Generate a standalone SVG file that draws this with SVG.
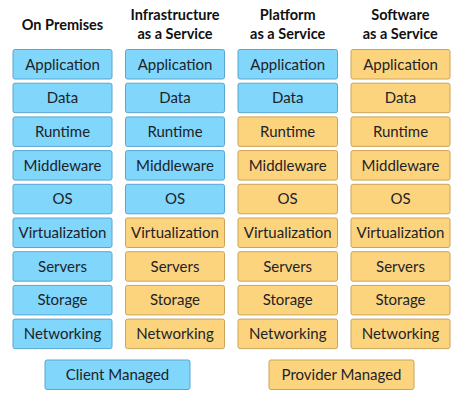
<svg xmlns="http://www.w3.org/2000/svg" width="474" height="400" viewBox="0 0 474 400">
<style>
.c{fill:#80d6fb;stroke:#5aa6cf;stroke-width:1}
.p{fill:#fdd47e;stroke:#caa45a;stroke-width:1}
.t{font-family:Lato,"Liberation Sans",sans-serif;font-size:15px;fill:#1e2328;text-anchor:middle}
.h{font-family:Lato,"Liberation Sans",sans-serif;font-size:14.5px;font-weight:bold;fill:#111;text-anchor:middle}
</style>
<rect width="474" height="400" fill="#fff"/>
<g id="headers">
<text class="h" x="62.5" y="30">On Premises</text>
<text class="h" x="175" y="20">Infrastructure</text>
<text class="h" x="175" y="38.5">as a Service</text>
<text class="h" x="287.7" y="20">Platform</text>
<text class="h" x="287.7" y="38.5">as a Service</text>
<text class="h" x="400.3" y="20">Software</text>
<text class="h" x="400.3" y="38.5">as a Service</text>
</g>
<g id="col1">
<g id="c1-app"><rect class="c" x="13" y="49.5" width="99" height="29.5" rx="2"/><text class="t" x="62.5" y="69.5">Application</text></g>
<g id="c1-data"><rect class="c" x="13" y="83.2" width="99" height="29.5" rx="2"/><text class="t" x="62.5" y="103.2">Data</text></g>
<g id="c1-runtime"><rect class="c" x="13" y="116.9" width="99" height="29.5" rx="2"/><text class="t" x="62.5" y="136.9">Runtime</text></g>
<g id="c1-mw"><rect class="c" x="13" y="150.6" width="99" height="29.5" rx="2"/><text class="t" x="62.5" y="170.6">Middleware</text></g>
<g id="c1-os"><rect class="c" x="13" y="184.3" width="99" height="29.5" rx="2"/><text class="t" x="62.5" y="204.3">OS</text></g>
<g id="c1-virt"><rect class="c" x="13" y="218" width="99" height="29.5" rx="2"/><text class="t" x="62.5" y="238">Virtualization</text></g>
<g id="c1-srv"><rect class="c" x="13" y="251.7" width="99" height="29.5" rx="2"/><text class="t" x="62.5" y="271.7">Servers</text></g>
<g id="c1-sto"><rect class="c" x="13" y="285.4" width="99" height="29.5" rx="2"/><text class="t" x="62.5" y="305.4">Storage</text></g>
<g id="c1-net"><rect class="c" x="13" y="319.1" width="99" height="29.5" rx="2"/><text class="t" x="62.5" y="339.1">Networking</text></g>
</g>
<g id="col2">
<g id="c2-app"><rect class="c" x="125.5" y="49.5" width="99" height="29.5" rx="2"/><text class="t" x="175" y="69.5">Application</text></g>
<g id="c2-data"><rect class="c" x="125.5" y="83.2" width="99" height="29.5" rx="2"/><text class="t" x="175" y="103.2">Data</text></g>
<g id="c2-runtime"><rect class="c" x="125.5" y="116.9" width="99" height="29.5" rx="2"/><text class="t" x="175" y="136.9">Runtime</text></g>
<g id="c2-mw"><rect class="c" x="125.5" y="150.6" width="99" height="29.5" rx="2"/><text class="t" x="175" y="170.6">Middleware</text></g>
<g id="c2-os"><rect class="c" x="125.5" y="184.3" width="99" height="29.5" rx="2"/><text class="t" x="175" y="204.3">OS</text></g>
<g id="c2-virt"><rect class="p" x="125.5" y="218" width="99" height="29.5" rx="2"/><text class="t" x="175" y="238">Virtualization</text></g>
<g id="c2-srv"><rect class="p" x="125.5" y="251.7" width="99" height="29.5" rx="2"/><text class="t" x="175" y="271.7">Servers</text></g>
<g id="c2-sto"><rect class="p" x="125.5" y="285.4" width="99" height="29.5" rx="2"/><text class="t" x="175" y="305.4">Storage</text></g>
<g id="c2-net"><rect class="p" x="125.5" y="319.1" width="99" height="29.5" rx="2"/><text class="t" x="175" y="339.1">Networking</text></g>
</g>
<g id="col3">
<g id="c3-app"><rect class="c" x="238" y="49.5" width="99.5" height="29.5" rx="2"/><text class="t" x="287.7" y="69.5">Application</text></g>
<g id="c3-data"><rect class="c" x="238" y="83.2" width="99.5" height="29.5" rx="2"/><text class="t" x="287.7" y="103.2">Data</text></g>
<g id="c3-runtime"><rect class="p" x="238" y="116.9" width="99.5" height="29.5" rx="2"/><text class="t" x="287.7" y="136.9">Runtime</text></g>
<g id="c3-mw"><rect class="p" x="238" y="150.6" width="99.5" height="29.5" rx="2"/><text class="t" x="287.7" y="170.6">Middleware</text></g>
<g id="c3-os"><rect class="p" x="238" y="184.3" width="99.5" height="29.5" rx="2"/><text class="t" x="287.7" y="204.3">OS</text></g>
<g id="c3-virt"><rect class="p" x="238" y="218" width="99.5" height="29.5" rx="2"/><text class="t" x="287.7" y="238">Virtualization</text></g>
<g id="c3-srv"><rect class="p" x="238" y="251.7" width="99.5" height="29.5" rx="2"/><text class="t" x="287.7" y="271.7">Servers</text></g>
<g id="c3-sto"><rect class="p" x="238" y="285.4" width="99.5" height="29.5" rx="2"/><text class="t" x="287.7" y="305.4">Storage</text></g>
<g id="c3-net"><rect class="p" x="238" y="319.1" width="99.5" height="29.5" rx="2"/><text class="t" x="287.7" y="339.1">Networking</text></g>
</g>
<g id="col4">
<g id="c4-app"><rect class="p" x="351" y="49.5" width="99" height="29.5" rx="2"/><text class="t" x="400.5" y="69.5">Application</text></g>
<g id="c4-data"><rect class="p" x="351" y="83.2" width="99" height="29.5" rx="2"/><text class="t" x="400.5" y="103.2">Data</text></g>
<g id="c4-runtime"><rect class="p" x="351" y="116.9" width="99" height="29.5" rx="2"/><text class="t" x="400.5" y="136.9">Runtime</text></g>
<g id="c4-mw"><rect class="p" x="351" y="150.6" width="99" height="29.5" rx="2"/><text class="t" x="400.5" y="170.6">Middleware</text></g>
<g id="c4-os"><rect class="p" x="351" y="184.3" width="99" height="29.5" rx="2"/><text class="t" x="400.5" y="204.3">OS</text></g>
<g id="c4-virt"><rect class="p" x="351" y="218" width="99" height="29.5" rx="2"/><text class="t" x="400.5" y="238">Virtualization</text></g>
<g id="c4-srv"><rect class="p" x="351" y="251.7" width="99" height="29.5" rx="2"/><text class="t" x="400.5" y="271.7">Servers</text></g>
<g id="c4-sto"><rect class="p" x="351" y="285.4" width="99" height="29.5" rx="2"/><text class="t" x="400.5" y="305.4">Storage</text></g>
<g id="c4-net"><rect class="p" x="351" y="319.1" width="99" height="29.5" rx="2"/><text class="t" x="400.5" y="339.1">Networking</text></g>
</g>
<g id="legend-client"><rect class="c" x="45" y="360" width="145" height="29.5" rx="2"/><text class="t" x="117.5" y="380">Client Managed</text></g>
<g id="legend-provider"><rect class="p" x="269" y="360" width="145" height="29.5" rx="2"/><text class="t" x="341.5" y="380">Provider Managed</text></g>
</svg>
